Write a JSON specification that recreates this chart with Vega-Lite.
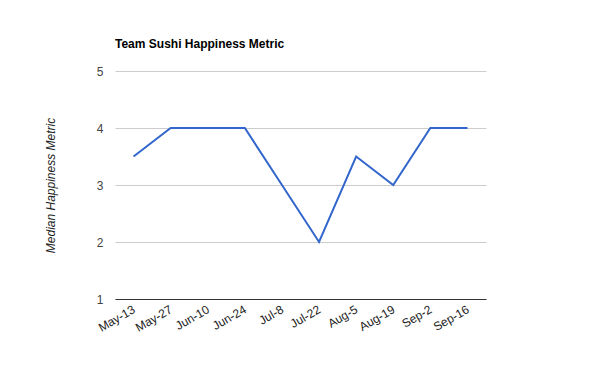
{
  "$schema": "https://vega.github.io/schema/vega-lite/v6.json",
  "width": 371,
  "height": 228,
  "autosize": {"type": "none"},
  "padding": {"left": 115, "top": 71, "right": 114, "bottom": 72},
  "background": "white",
  "title": {
    "text": "Team Sushi Happiness Metric",
    "anchor": "start",
    "frame": "group",
    "font": "Liberation Sans",
    "fontSize": 12,
    "fontWeight": "bold",
    "color": "#000000",
    "offset": 14
  },
  "data": {
    "values": [
      {"date": "May-13", "value": 3.5},
      {"date": "May-27", "value": 4},
      {"date": "Jun-10", "value": 4},
      {"date": "Jun-24", "value": 4},
      {"date": "Jul-8", "value": 3},
      {"date": "Jul-22", "value": 2},
      {"date": "Aug-5", "value": 3.5},
      {"date": "Aug-19", "value": 3},
      {"date": "Sep-2", "value": 4},
      {"date": "Sep-16", "value": 4}
    ]
  },
  "config": {
    "view": {"stroke": null},
    "axis": {"labelFont": "Liberation Sans", "titleFont": "Liberation Sans"}
  },
  "mark": {"type": "line", "color": "#3366cc", "strokeWidth": 2},
  "encoding": {
    "x": {
      "field": "date",
      "type": "ordinal",
      "sort": null,
      "scale": {"type": "point", "padding": 0.5},
      "axis": {
        "title": null,
        "labelAngle": -30,
        "labelAlign": "right",
        "labelBaseline": "middle",
        "labelPadding": 9,
        "labelFontSize": 12,
        "labelColor": "#222222",
        "ticks": false,
        "grid": false,
        "domainColor": "#333333",
        "domainWidth": 1
      }
    },
    "y": {
      "field": "value",
      "type": "quantitative",
      "scale": {"domain": [1, 5], "nice": false, "zero": false},
      "axis": {
        "title": "Median Happiness Metric",
        "titleFontStyle": "italic",
        "titleFontWeight": "normal",
        "titleFontSize": 12,
        "titleColor": "#222222",
        "titleX": -65,
        "titleY": 114,
        "titleAngle": -90,
        "titleAlign": "center",
        "titleBaseline": "middle",
        "values": [1, 2, 3, 4, 5],
        "labelFontSize": 12,
        "labelColor": "#444444",
        "labelPadding": 12,
        "ticks": false,
        "domain": false,
        "gridColor": "#cccccc",
        "format": "d"
      }
    }
  }
}
